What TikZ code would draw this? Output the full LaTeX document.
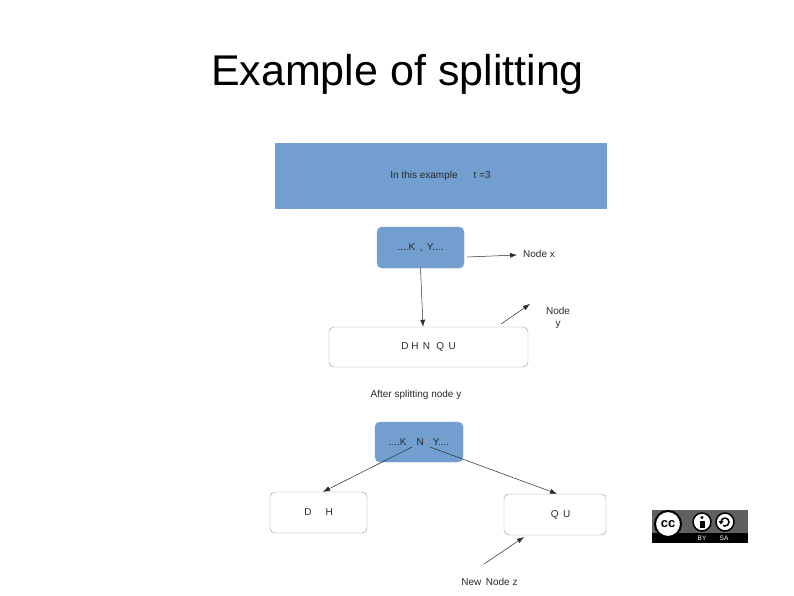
\documentclass[tikz,border=0pt]{standalone}
\usepackage{fontspec}
\setmainfont{Liberation Sans}
\usetikzlibrary{arrows.meta}
\definecolor{blockblue}{HTML}{729FCF}
\definecolor{edgegrey}{HTML}{8A9BA8}
\definecolor{inkgrey}{HTML}{2A2A2A}
\tikzset{
    bluebox/.style={draw=blockblue,fill=blockblue,rounded corners=5pt,inner sep=0pt,text=inkgrey,font=\fontsize{10}{12}\selectfont},
    whitebox/.style={draw=edgegrey,fill=white,rounded corners=5pt,inner sep=0pt,text=inkgrey,font=\fontsize{10}{12}\selectfont},
    caption/.style={inner sep=0pt,text=inkgrey,font=\fontsize{10}{12}\selectfont},
    pointer/.style={draw=inkgrey,line width=0.5pt,-{Latex[length=7pt,width=5pt]}}
}
\begin{document}
\begin{tikzpicture}[x=1pt,y=-1pt]
    \useasboundingbox (0,0) rectangle (794,595);
    \fill[white] (0,0) rectangle (794,595);
    \node[inner sep=0pt,font=\fontsize{43}{50}\selectfont] (title) at (397.5,74) {Example of splitting};
    % top part
    \node[bluebox,rounded corners=0pt,minimum width=331pt,minimum height=65pt] (banner) at (440.5,175.5) {In this example\hspace{16pt}t =3};
    \node[bluebox,minimum width=87pt,minimum height=41pt] (nodex) at (420.5,247.5) {....K\, ,\, Y....};
    \node[whitebox,minimum width=199pt,minimum height=40pt] (nodey) at (428.5,347) {D H\, N\, \,Q\, U};
    \node[caption,anchor=west] (labelx) at (523,254) {Node x};
    \node[caption,align=center] (labely) at (558,317.5) {Node\\y};
    \coordinate (xstart) at (467,257);
    \coordinate (xend) at (517,255);
    \coordinate (ystart) at (501,324);
    \coordinate (yend) at (530,304);
    \draw[pointer] (xstart) -- (xend);
    \draw[pointer] (ystart) -- (yend);
    \draw[pointer] (nodex.south) -- ([xshift=-5.5pt]nodey.north);
    % after the split
    \node[caption] (after) at (416,395) {After splitting node y};
    \node[bluebox,minimum width=88pt,minimum height=40pt] (parent) at (419,442) {....K\hspace{10pt}N\hspace{9pt}Y....};
    \node[whitebox,minimum width=97pt,minimum height=41pt] (left) at (318.5,512.5) {D\hspace{14pt}H};
    \node[whitebox,minimum width=102pt,minimum height=41pt] (right) at (555,514.5) {\hspace{11pt}Q\, U};
    \node[caption] (newz) at (489.5,581.5) {New\, Node z};
    \coordinate (zstart) at (484,564);
    \coordinate (zend) at (524,537);
    \draw[pointer] ([xshift=-7pt,yshift=-5pt]parent.center) -- ([xshift=4.5pt]left.north);
    \draw[pointer] ([xshift=11pt,yshift=-5pt]parent.center) -- ([xshift=2pt]right.north);
    \draw[pointer] (zstart) -- (zend);
    % licence badge
    \fill[gray!75!black] (652,510) rectangle (748,533);
    \fill[black] (652,533) rectangle (748,543);
    \node[circle,draw=black,line width=2pt,fill=white,minimum size=26pt,inner sep=0pt,font=\fontsize{13}{13}\selectfont\bfseries] (ccmark) at (668,524) {cc};
    \node[circle,draw=black,line width=1.5pt,fill=white,minimum size=18pt,inner sep=0pt] (bymark) at (702,522) {};
    \fill[black] (702,517.5) circle (1.7pt);
    \fill[black] (699.5,520.5) rectangle (704.5,528);
    \node[circle,draw=black,line width=1.5pt,fill=white,minimum size=18pt,inner sep=0pt] (samark) at (725,522) {};
    \draw[black,line width=1.5pt] (721,522) arc[start angle=180,end angle=-120,radius=4pt];
    \fill[black] (718.5,521) -- (723.5,521) -- (721,524.5) -- cycle;
    \node[inner sep=0pt,text=white,font=\fontsize{6.5}{8}\selectfont] (bytext) at (702,538.5) {BY};
    \node[inner sep=0pt,text=white,font=\fontsize{6.5}{8}\selectfont] (satext) at (724,538.5) {SA};
\end{tikzpicture}
\end{document}
